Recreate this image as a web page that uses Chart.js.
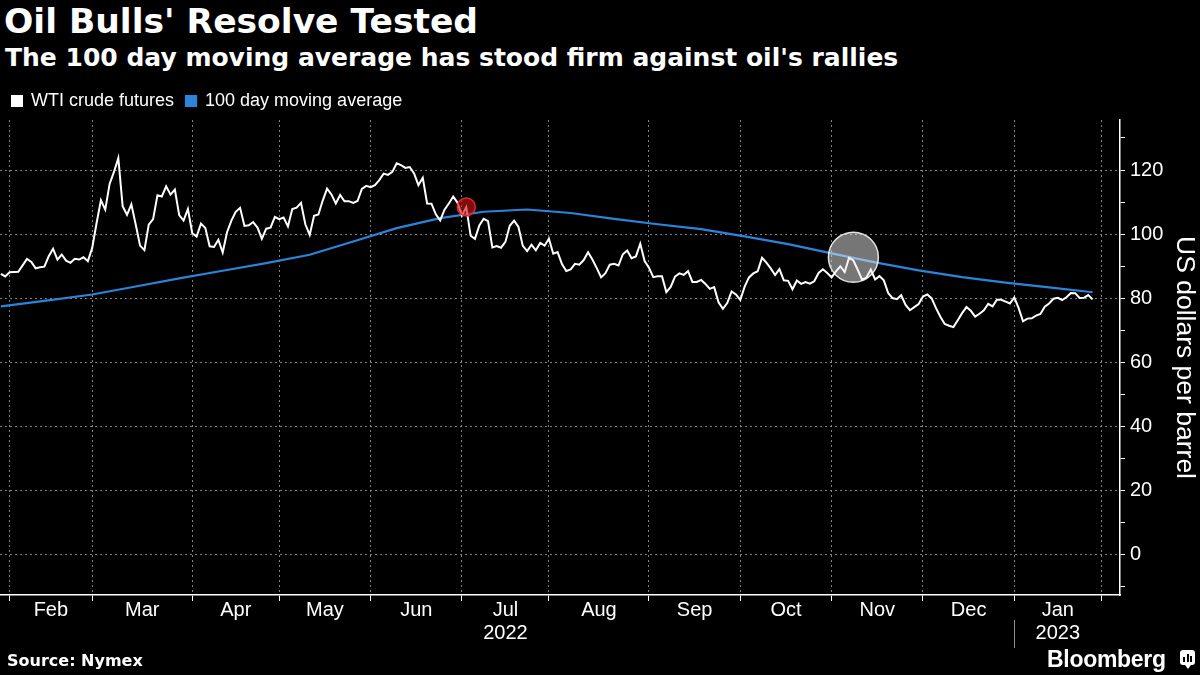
<!DOCTYPE html>
<html>
<head>
<meta charset="utf-8">
<script src="https://cdn.jsdelivr.net/npm/chart.js@4.4.1/dist/chart.umd.min.js"></script>
<style>
  html, body { margin: 0; padding: 0; background: #000; }
  body { width: 1200px; height: 675px; position: relative; overflow: hidden; color: #fff; }
  #titulo { position: absolute; left: 4px; top: 1px; font: bold 34.5px "DejaVu Sans", sans-serif; line-height: 40px; white-space: nowrap; }
  #subtitulo { position: absolute; left: 5px; top: 43px; font: bold 25px "DejaVu Sans", sans-serif; line-height: 30px; white-space: nowrap; }
  #marco { position: absolute; left: 0; top: 80px; width: 1200px; height: 595px; }
  #fuente { position: absolute; left: 7px; top: 650px; font: bold 16px "DejaVu Sans", sans-serif; line-height: 22px; }
  #logo { position: absolute; left: 1047px; top: 645px; font: bold 23px "Liberation Sans", sans-serif; line-height: 28px; letter-spacing: -0.3px; }
  #icono { position: absolute; left: 1180px; top: 650px; width: 15px; height: 15px; background: #fff; border-radius: 3px; }
  #icono span { position: absolute; bottom: 3px; width: 2px; background: #000; }
  #icono:after { content: ""; position: absolute; left: 5px; top: 15px; border-left: 3px solid transparent; border-right: 3px solid transparent; border-top: 4px solid #fff; }
</style>
</head>
<body>
<div id="titulo">Oil Bulls' Resolve Tested</div>
<div id="subtitulo">The 100 day moving average has stood firm against oil's rallies</div>
<div id="marco"><canvas id="graficaPetroleo"></canvas></div>
<div id="fuente">Source: Nymex</div>
<div id="logo">Bloomberg</div>
<div id="icono"><span style="left:3px;height:5px"></span><span style="left:6.5px;height:8px"></span><span style="left:10px;height:6px"></span></div>
<script>
var colorBlanco = "#ffffff"
var colorAzul = "#2b84dc"
var colorRejilla = "rgba(150,150,150,0.85)"

// dias de negociacion que cubre el eje x (el ultimo dato es el 2023-01-27)
var diasHabiles = [
    '2022-01-27', '2022-01-28', '2022-01-31',
    '2022-02-01', '2022-02-02', '2022-02-03', '2022-02-04', '2022-02-07', '2022-02-08', '2022-02-09', '2022-02-10', '2022-02-11', '2022-02-14',
    '2022-02-15', '2022-02-16', '2022-02-17', '2022-02-18', '2022-02-22', '2022-02-23', '2022-02-24', '2022-02-25', '2022-02-28',
    '2022-03-01', '2022-03-02', '2022-03-03', '2022-03-04', '2022-03-07', '2022-03-08', '2022-03-09', '2022-03-10', '2022-03-11', '2022-03-14',
    '2022-03-15', '2022-03-16', '2022-03-17', '2022-03-18', '2022-03-21', '2022-03-22', '2022-03-23', '2022-03-24', '2022-03-25', '2022-03-28',
    '2022-03-29', '2022-03-30', '2022-03-31',
    '2022-04-01', '2022-04-04', '2022-04-05', '2022-04-06', '2022-04-07', '2022-04-08', '2022-04-11', '2022-04-12', '2022-04-13', '2022-04-14',
    '2022-04-18', '2022-04-19', '2022-04-20', '2022-04-21', '2022-04-22', '2022-04-25', '2022-04-26', '2022-04-27', '2022-04-28', '2022-04-29',
    '2022-05-02', '2022-05-03', '2022-05-04', '2022-05-05', '2022-05-06', '2022-05-09', '2022-05-10', '2022-05-11', '2022-05-12', '2022-05-13',
    '2022-05-16', '2022-05-17', '2022-05-18', '2022-05-19', '2022-05-20', '2022-05-23', '2022-05-24', '2022-05-25', '2022-05-26', '2022-05-27',
    '2022-05-31',
    '2022-06-01', '2022-06-02', '2022-06-03', '2022-06-06', '2022-06-07', '2022-06-08', '2022-06-09', '2022-06-10', '2022-06-13', '2022-06-14',
    '2022-06-15', '2022-06-16', '2022-06-17', '2022-06-21', '2022-06-22', '2022-06-23', '2022-06-24', '2022-06-27', '2022-06-28', '2022-06-29',
    '2022-06-30',
    '2022-07-01', '2022-07-05', '2022-07-06', '2022-07-07', '2022-07-08', '2022-07-11', '2022-07-12', '2022-07-13', '2022-07-14', '2022-07-15',
    '2022-07-18', '2022-07-19', '2022-07-20', '2022-07-21', '2022-07-22', '2022-07-25', '2022-07-26', '2022-07-27', '2022-07-28', '2022-07-29',
    '2022-08-01', '2022-08-02', '2022-08-03', '2022-08-04', '2022-08-05', '2022-08-08', '2022-08-09', '2022-08-10', '2022-08-11', '2022-08-12',
    '2022-08-15', '2022-08-16', '2022-08-17', '2022-08-18', '2022-08-19', '2022-08-22', '2022-08-23', '2022-08-24', '2022-08-25', '2022-08-26',
    '2022-08-29', '2022-08-30', '2022-08-31',
    '2022-09-01', '2022-09-02', '2022-09-06', '2022-09-07', '2022-09-08', '2022-09-09', '2022-09-12', '2022-09-13', '2022-09-14', '2022-09-15',
    '2022-09-16', '2022-09-19', '2022-09-20', '2022-09-21', '2022-09-22', '2022-09-23', '2022-09-26', '2022-09-27', '2022-09-28', '2022-09-29',
    '2022-09-30',
    '2022-10-03', '2022-10-04', '2022-10-05', '2022-10-06', '2022-10-07', '2022-10-10', '2022-10-11', '2022-10-12', '2022-10-13', '2022-10-14',
    '2022-10-17', '2022-10-18', '2022-10-19', '2022-10-20', '2022-10-21', '2022-10-24', '2022-10-25', '2022-10-26', '2022-10-27', '2022-10-28',
    '2022-10-31',
    '2022-11-01', '2022-11-02', '2022-11-03', '2022-11-04', '2022-11-07', '2022-11-08', '2022-11-09', '2022-11-10', '2022-11-11', '2022-11-14',
    '2022-11-15', '2022-11-16', '2022-11-17', '2022-11-18', '2022-11-21', '2022-11-22', '2022-11-23', '2022-11-25', '2022-11-28', '2022-11-29',
    '2022-11-30',
    '2022-12-01', '2022-12-02', '2022-12-05', '2022-12-06', '2022-12-07', '2022-12-08', '2022-12-09', '2022-12-12', '2022-12-13', '2022-12-14',
    '2022-12-15', '2022-12-16', '2022-12-19', '2022-12-20', '2022-12-21', '2022-12-22', '2022-12-23', '2022-12-27', '2022-12-28', '2022-12-29',
    '2022-12-30',
    '2023-01-03', '2023-01-04', '2023-01-05', '2023-01-06', '2023-01-09', '2023-01-10', '2023-01-11', '2023-01-12', '2023-01-13', '2023-01-17',
    '2023-01-18', '2023-01-19', '2023-01-20', '2023-01-23', '2023-01-24', '2023-01-25', '2023-01-26', '2023-01-27', '2023-01-30', '2023-01-31',
    '2023-02-01', '2023-02-02', '2023-02-03', '2023-02-06'
];

// cierre WTI, uno por dia habil desde 2022-01-27 hasta 2023-01-27
var cierreWTI = [
    87.61, 86.82, 88.15,
    88.20, 88.26, 90.27, 92.31, 91.32, 89.36, 89.66, 89.88, 93.10, 95.46,
    92.07, 93.66, 91.76, 91.07, 92.35, 92.10, 92.81, 91.59, 95.72,
    103.41, 110.60, 107.67, 115.68, 119.40, 123.70, 108.70, 106.02, 109.33, 103.01,
    96.44, 95.04, 102.98, 104.70, 112.12, 111.76, 114.93, 112.34, 113.90, 105.96,
    104.24, 107.82, 100.28,
    99.27, 103.28, 101.96, 96.23, 96.03, 98.26, 94.29, 100.60, 104.25, 106.95,
    108.21, 102.56, 102.75, 103.79, 102.07, 98.54, 101.70, 102.02, 105.36, 104.69,
    105.17, 102.41, 107.81, 108.26, 109.77, 103.09, 99.76, 105.71, 106.13, 110.49,
    114.20, 112.40, 109.59, 112.21, 110.28, 110.29, 109.77, 110.33, 114.09, 115.07,
    114.67,
    115.26, 116.87, 118.87, 118.50, 119.41, 122.11, 121.51, 120.67, 120.93, 118.93,
    115.31, 117.59, 109.56, 109.52, 106.19, 104.27, 107.62, 109.57, 111.76, 109.78,
    105.76,
    108.43, 99.50, 98.53, 102.73, 104.79, 104.09, 95.84, 96.30, 95.78, 97.59,
    102.60, 104.22, 102.26, 96.35, 94.70, 96.70, 94.98, 97.26, 96.42, 98.62,
    93.89, 94.42, 90.66, 88.54, 89.01, 90.76, 90.50, 91.93, 94.34, 92.09,
    89.41, 86.53, 87.85, 90.50, 90.77, 90.23, 93.74, 94.89, 92.52, 93.06,
    97.01, 91.64, 89.55,
    86.61, 86.87, 86.88, 81.94, 83.54, 86.79, 87.78, 87.31, 88.48, 85.10,
    85.11, 85.73, 84.45, 82.94, 83.49, 78.74, 76.71, 78.50, 82.15, 81.23,
    79.49,
    83.63, 86.52, 87.76, 88.45, 92.64, 91.13, 89.35, 87.27, 89.11, 85.61,
    85.46, 82.82, 85.55, 84.51, 85.05, 84.58, 85.32, 87.91, 89.08, 87.90,
    86.53,
    88.37, 90.00, 88.17, 92.61, 91.79, 88.91, 85.83, 86.47, 88.96, 85.87,
    86.92, 85.59, 81.64, 80.08, 79.73, 80.95, 77.94, 76.28, 77.24, 78.20,
    80.55,
    81.22, 79.98, 76.93, 74.25, 72.01, 71.46, 71.02, 73.17, 75.39, 77.28,
    76.11, 74.29, 75.19, 76.23, 78.29, 77.49, 79.56, 79.53, 78.96, 78.40,
    80.26,
    76.93, 72.84, 73.67, 73.77, 74.63, 75.12, 77.41, 78.39, 79.86, 80.18,
    79.48, 80.33, 81.64, 81.62, 80.13, 80.15, 81.01, 79.68
];

var fechasMedia = [
    '2022-01-27', '2022-02-10', '2022-02-28', '2022-03-14', '2022-03-28', '2022-04-11', '2022-04-26',
    '2022-05-10', '2022-05-24', '2022-06-08', '2022-06-23', '2022-07-08', '2022-07-22', '2022-08-05',
    '2022-08-19', '2022-09-02', '2022-09-19', '2022-10-03', '2022-10-17', '2022-10-31', '2022-11-14',
    '2022-11-29', '2022-12-13', '2022-12-28', '2023-01-12', '2023-01-27'
];
var valoresMedia = [
    77.5, 79.2, 81.2, 83.7, 86.2, 88.6, 91.0,
    93.6, 97.7, 101.9, 105.0, 107.0, 107.7, 106.6,
    104.8, 103.1, 101.6, 99.3, 96.9, 94.0, 91.2,
    88.7, 86.6, 84.9, 83.4, 81.9
];

// etiquetas de los meses del eje x
var etiquetasMes = ['Feb', 'Mar', 'Apr', 'May', 'Jun', ['Jul', '2022'], 'Aug', 'Sep', 'Oct', 'Nov', 'Dec', ['Jan', '2023']];

// circulos que marcan los choques con la media
var fechasMarca = ['2022-07-01', '2022-11-07'];
var valoresMarca = [108.5, 92.8];

var indice = {};
diasHabiles.forEach(function (d, i) { indice[d] = i; });

var puntosWTI = cierreWTI.map(function (v, i) { return { x: i, y: v }; });
var puntosMedia = fechasMedia.map(function (d, i) { return { x: indice[d], y: valoresMedia[i] }; });
var puntosMarca = fechasMarca.map(function (d, i) { return { x: indice[d], y: valoresMarca[i] }; });

// la rejilla va en el ultimo dia habil de cada mes
var finesMes = [];
for (var i = 0; i < diasHabiles.length - 1; i++) {
    if (diasHabiles[i].slice(0, 7) !== diasHabiles[i + 1].slice(0, 7)) finesMes.push(i);
}
var cambioAnio = indice['2022-12-30'];

var ticksX = [];
var textoTick = {};
finesMes.forEach(function (f, k) {
    ticksX.push({ value: f });
    if (k < finesMes.length - 1) {
        var medio = (f + finesMes[k + 1]) / 2;
        ticksX.push({ value: medio });
        textoTick[medio] = etiquetasMes[k];
    }
});

var separadorAnio = {
    id: 'separadorAnio',
    afterDraw: function (chart) {
        var ctx = chart.ctx;
        var px = Math.round(chart.scales.x.getPixelForValue(cambioAnio)) + 0.5;
        var abajo = chart.chartArea.bottom;
        ctx.save();
        ctx.strokeStyle = '#8c8c8c';
        ctx.lineWidth = 1;
        ctx.beginPath();
        ctx.moveTo(px, abajo + 25);
        ctx.lineTo(px, abajo + 53);
        ctx.stroke();
        ctx.restore();
    }
};

var datosGrafica = {
    datasets: [{
        type: 'scatter',
        label: 'marcas',
        data: puntosMarca,
        pointRadius: [9, 25],
        pointBackgroundColor: ['rgba(205,20,25,0.62)', 'rgba(235,235,235,0.5)'],
        pointBorderColor: ['rgba(235,40,40,0.95)', 'rgba(255,255,255,0.85)'],
        pointBorderWidth: 1.5,
        order: 0
    }, {
        label: 'WTI crude futures',
        data: puntosWTI,
        borderColor: colorBlanco,
        backgroundColor: colorBlanco,
        borderWidth: 2,
        pointRadius: 0,
        tension: 0,
        order: 1
    }, {
        label: '100 day moving average',
        data: puntosMedia,
        borderColor: colorAzul,
        backgroundColor: colorAzul,
        borderWidth: 2.2,
        pointRadius: 0,
        tension: 0,
        order: 2
    }]
};

var configuracion = {
    type: 'line',
    data: datosGrafica,
    plugins: [separadorAnio],
    options: {
        responsive: true,
        maintainAspectRatio: false,
        animation: false,
        events: [],
        layout: { padding: 0, autoPadding: false },
        plugins: {
            tooltip: { enabled: false },
            legend: {
                position: 'top',
                align: 'start',
                labels: {
                    color: colorBlanco,
                    boxWidth: 10,
                    boxHeight: 10,
                    padding: 12,
                    font: { family: 'Liberation Sans', size: 18 },
                    filter: function (item) { return item.text !== 'marcas'; }
                }
            }
        },
        scales: {
            x: {
                type: 'linear',
                min: -0.2,
                max: 257.3,
                afterBuildTicks: function (escala) { escala.ticks = ticksX.map(function (t) { return { value: t.value }; }); },
                afterFit: function (escala) {
                    escala.height = 80;
                    escala.paddingLeft = 0;
                    escala.paddingRight = 0;
                },
                grid: {
                    color: function (c) { return finesMes.indexOf(c.tick.value) >= 0 ? colorRejilla : 'rgba(0,0,0,0)'; },
                    tickColor: function (c) { return finesMes.indexOf(c.tick.value) >= 0 ? colorBlanco : 'rgba(0,0,0,0)'; },
                    lineWidth: 1,
                    tickLength: 6
                },
                border: { color: colorBlanco, width: 1.5, dash: [2, 3] },
                ticks: {
                    autoSkip: false,
                    maxRotation: 0,
                    color: colorBlanco,
                    padding: -2,
                    font: { family: 'Liberation Sans', size: 20, lineHeight: 1.15 },
                    callback: function (valor) { return textoTick[valor] || ''; }
                }
            },
            y: {
                type: 'linear',
                position: 'right',
                min: -12.5,
                max: 135.6,
                afterFit: function (escala) { escala.width = 80; },
                grid: {
                    color: function (c) { return c.tick.value % 20 === 0 ? colorRejilla : 'rgba(0,0,0,0)'; },
                    tickColor: colorBlanco,
                    lineWidth: 1,
                    tickLength: 5
                },
                border: { color: colorBlanco, width: 1.5, dash: [2, 3] },
                ticks: {
                    stepSize: 10,
                    includeBounds: false,
                    color: colorBlanco,
                    padding: 5,
                    font: { family: 'Liberation Sans', size: 20 },
                    callback: function (valor) { return valor % 20 === 0 ? valor : ''; }
                },
                title: {
                    display: true,
                    text: 'US dollars per barrel',
                    color: colorBlanco,
                    padding: { top: 0, bottom: 0 },
                    font: { family: 'Liberation Sans', size: 26.5 }
                }
            }
        }
    }
};

var graficaPetroleo = new Chart(
    document.getElementById('graficaPetroleo'),
    configuracion
);
</script>
</body>
</html>
